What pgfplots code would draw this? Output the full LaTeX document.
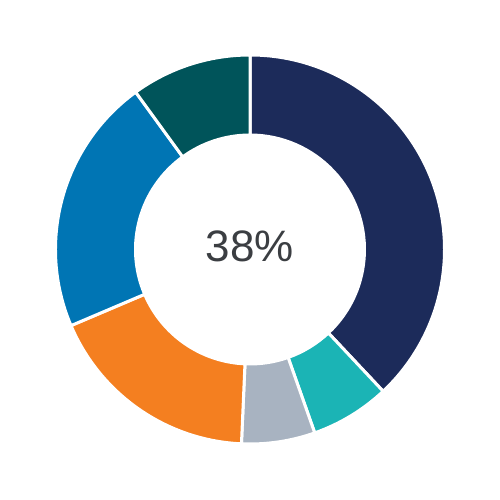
\documentclass[border=0pt]{standalone}
\usepackage{pgfplots}
\pgfplotsset{compat=1.18}
\usepackage{fontspec}
\setmainfont{Liberation Sans}

\definecolor{cNavy}{HTML}{1C2B5A}
\definecolor{cTeal}{HTML}{1BB4B5}
\definecolor{cGray}{HTML}{A8B3C1}
\definecolor{cOrange}{HTML}{F47F20}
\definecolor{cBlue}{HTML}{0075B4}
\definecolor{cGreen}{HTML}{00545A}
\definecolor{cText}{HTML}{3B3E42}

\begin{document}
\begin{tikzpicture}
  \begin{axis}[
    hide axis,
    x=1pt, y=1pt,
    xmin=-250, xmax=250,
    ymin=-250.5, ymax=249.5,
    scale only axis,
    clip=false,
  ]
  \path (axis cs:-250,-250.5) rectangle (axis cs:250,249.5);
  \def\Ro{194.5}\def\Ri{114.5}
  \gdef\cum{0}
  % share (percent) / colour, clockwise from 12 o'clock
  \foreach \v/\c in {38/cNavy, 6.6/cTeal, 6.1/cGray, 17.9/cOrange, 21.4/cBlue, 10/cGreen}{
    \pgfmathsetmacro{\aS}{90-3.6*\cum}
    \pgfmathsetmacro{\aE}{90-3.6*(\cum+\v)}
    \pgfmathsetmacro{\xa}{\Ri*cos(\aS)}\pgfmathsetmacro{\ya}{\Ri*sin(\aS)}
    \pgfmathsetmacro{\xb}{\Ro*cos(\aS)}\pgfmathsetmacro{\yb}{\Ro*sin(\aS)}
    \pgfmathsetmacro{\xc}{\Ri*cos(\aE)}\pgfmathsetmacro{\yc}{\Ri*sin(\aE)}
    \edef\temp{\noexpand\filldraw[fill=\c, draw=white, line width=3pt, line join=miter]
      (axis cs:\xa,\ya) -- (axis cs:\xb,\yb)
      arc[start angle=\aS, end angle=\aE, radius=\Ro pt]
      -- (axis cs:\xc,\yc)
      arc[start angle=\aE, end angle=\aS, radius=\Ri pt] -- cycle;}
    \temp
    \pgfmathsetmacro{\newcum}{\cum+\v}
    \global\let\cum\newcum
  }
  \node[text=cText, inner sep=0pt] at (axis cs:0,3) {\fontsize{44}{44}\selectfont 38\%};
  \end{axis}
\end{tikzpicture}
\end{document}
